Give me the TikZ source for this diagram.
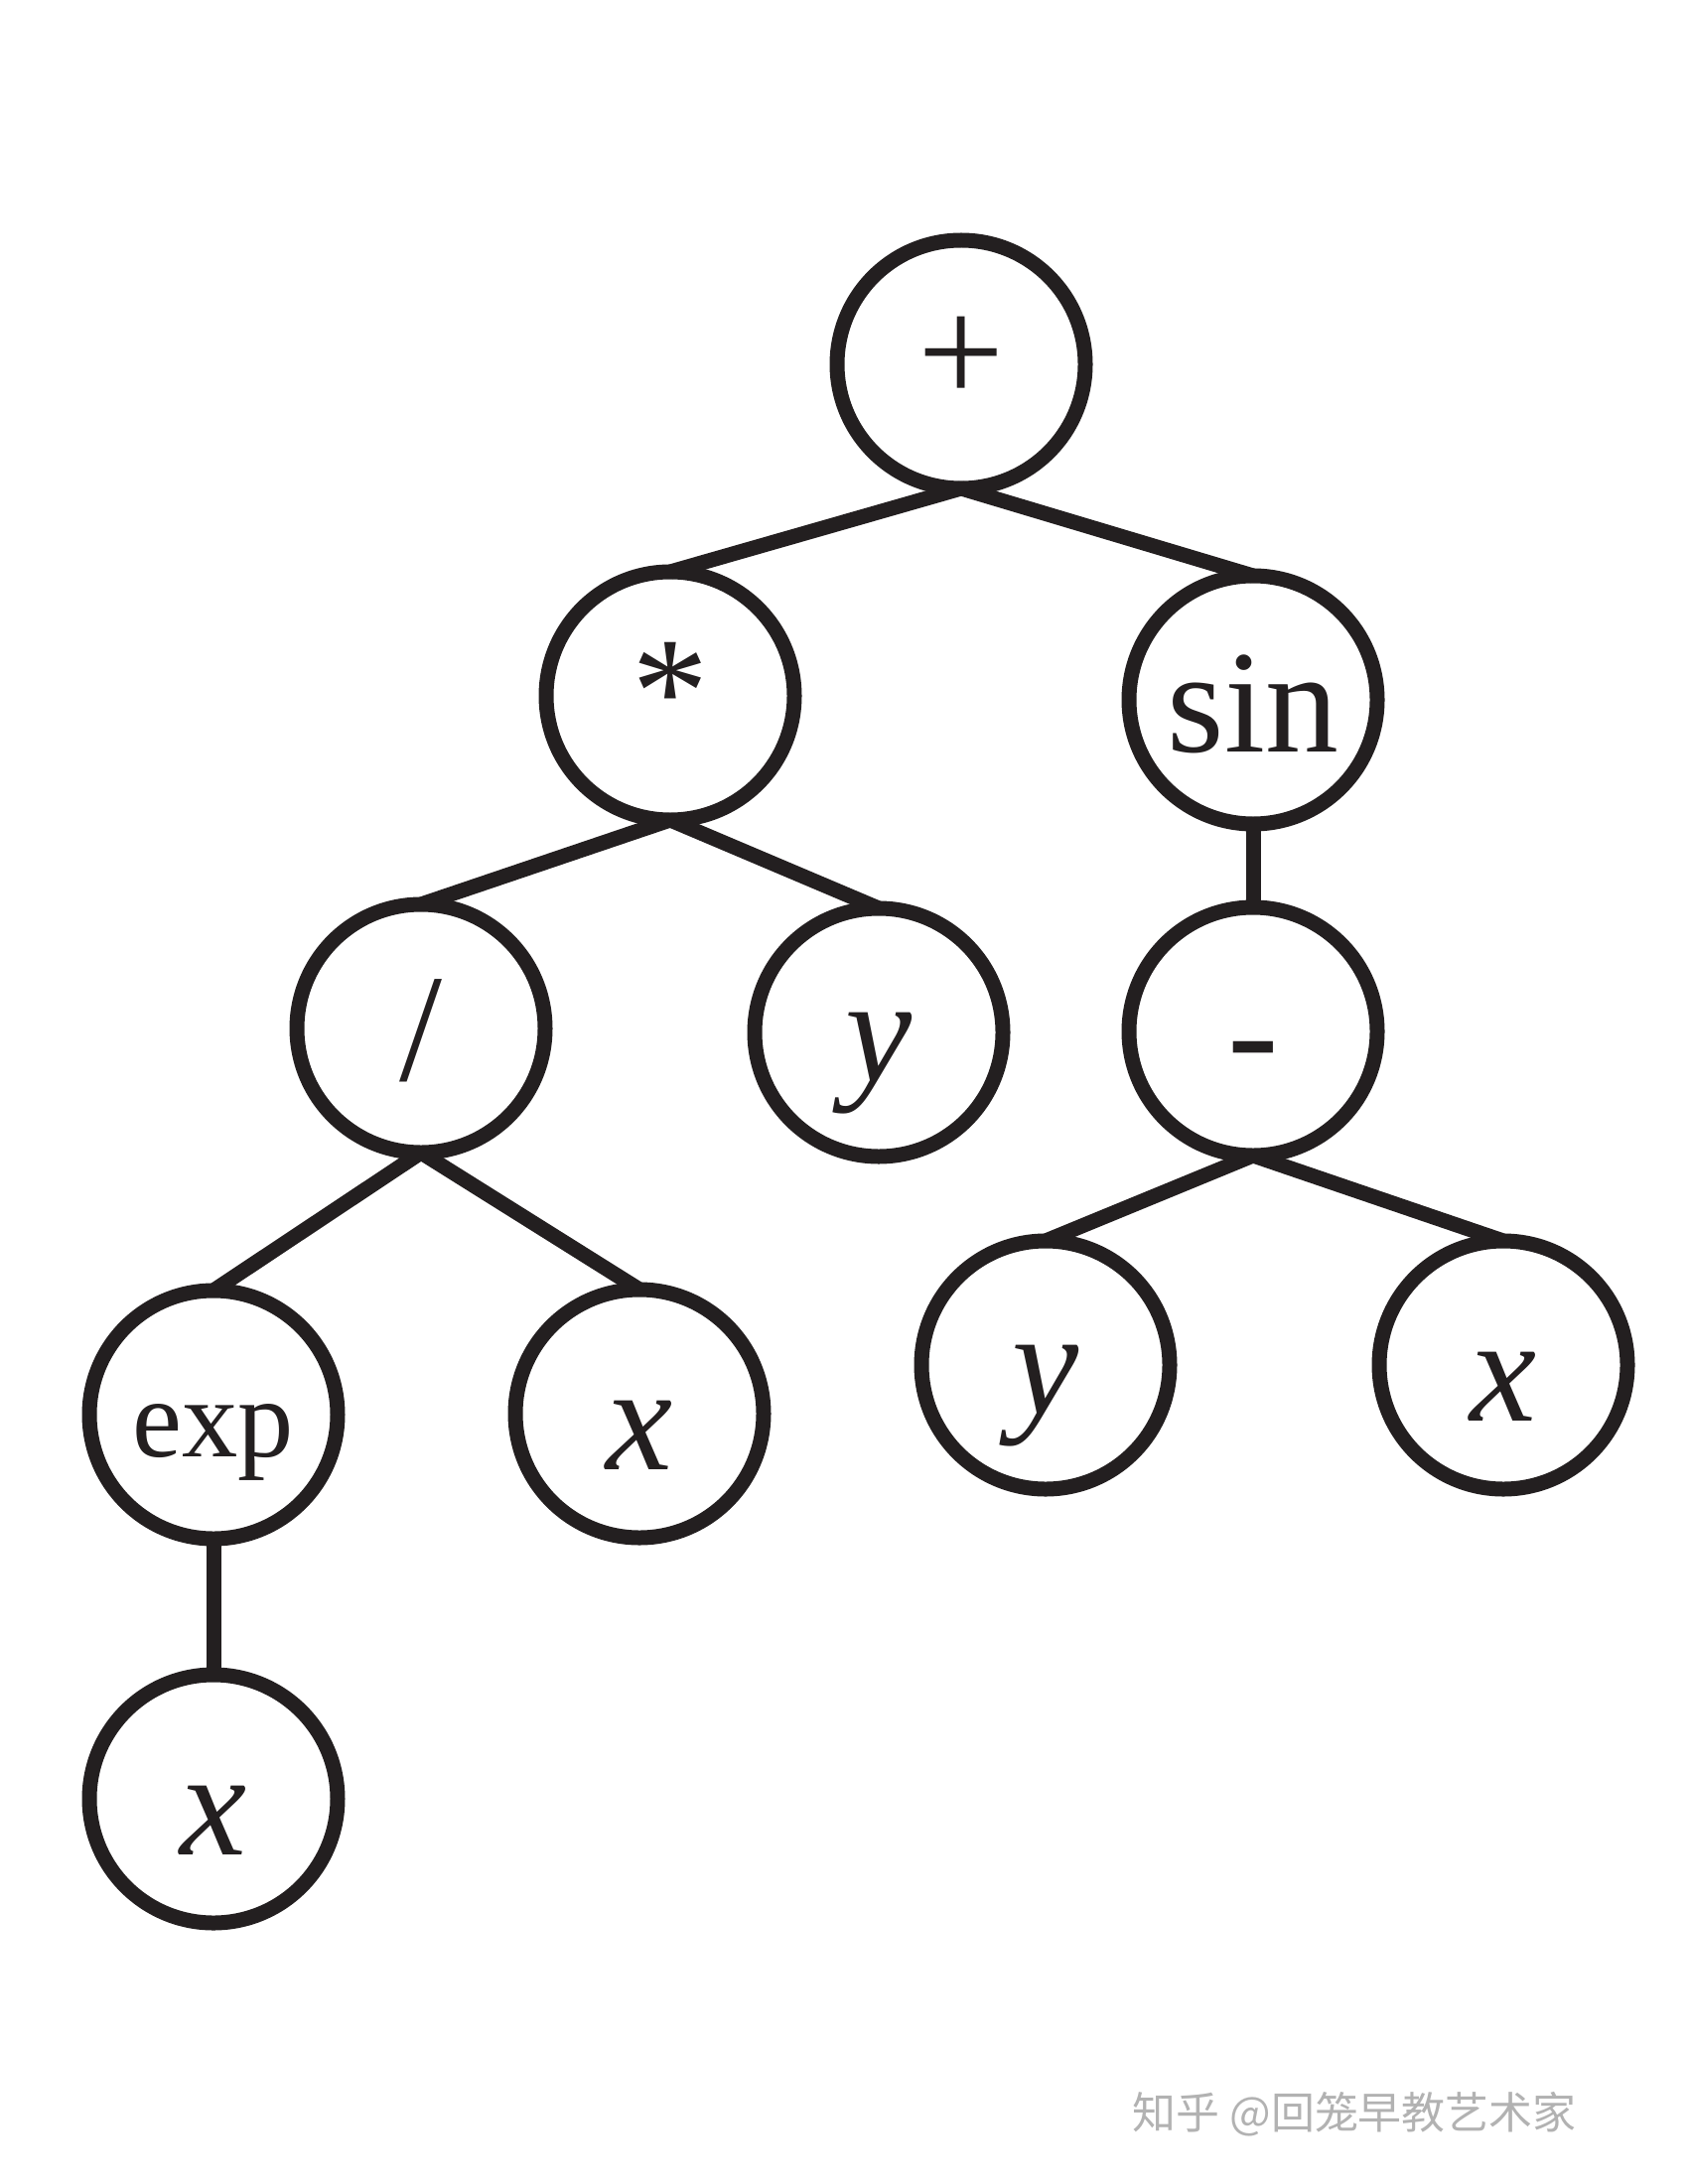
\documentclass[tikz,border=0pt]{standalone}
\usepackage{fontspec}
\setmainfont{Liberation Serif}
\newfontfamily\cjkfont{Noto Sans CJK SC}
\usepackage{xcolor}
\usepackage{tikz}
\usetikzlibrary{positioning}

\definecolor{ink}{HTML}{231F20}

\begin{document}
\begin{tikzpicture}[
  opnode/.style={circle, draw=ink, line width=0.15cm, fill=white, inner sep=0pt,
    outer sep=0pt, minimum size=2.5cm, text=ink, text height=1.04cm, text depth=0cm,
    font=\fontsize{44pt}{50pt}\selectfont},
  varnode/.style={opnode, font=\fontsize{43pt}{50pt}\selectfont\itshape},
  edge/.style={draw=ink, line width=0.15cm},
  creditlabel/.style={font=\cjkfont\fontsize{12.5pt}{14pt}\selectfont, text=black!30}
]
  \useasboundingbox (0,0) rectangle (17,-22);

  \node[opnode, text height=0.8cm]  (plus)  at (9.68, -3.67)  {+};
  \node[opnode, text height=0.94cm] (times) at (6.75, -7.01)  {*};
  \node[opnode, font=\fontsize{42pt}{50pt}\selectfont] (sin) at (12.62, -7.05) {sin};
  \node[opnode]  (div)   at (4.24, -10.36) {/};
  \node[varnode, text height=0.98cm] (yA) at (8.85, -10.40) {y};
  \node[opnode]  (minus) at (12.62, -10.39) {-};
  \node[opnode, text height=0.84cm, font=\fontsize{32pt}{36pt}\selectfont] (exp) at (2.15, -14.25) {exp};
  \node[varnode, text height=1.12cm] (xA) at (6.44, -14.24) {x};
  \node[varnode, text height=0.98cm] (yB) at (10.53, -13.75) {y};
  \node[varnode, text height=1.12cm] (xB) at (15.14, -13.75) {x};
  \node[varnode, text height=1.12cm] (xC) at (2.15, -18.12) {x};

  \draw[edge] (plus.south)  -- (times.north);
  \draw[edge] (plus.south)  -- (sin.north);
  \draw[edge] (times.south) -- (div.north);
  \draw[edge] (times.south) -- (yA.north);
  \draw[edge] (sin.south)   -- (minus.north);
  \draw[edge] (div.south)   -- (exp.north);
  \draw[edge] (div.south)   -- (xA.north);
  \draw[edge] (minus.south) -- (yB.north);
  \draw[edge] (minus.south) -- (xB.north);
  \draw[edge] (exp.south)   -- (xC.north);

  \node[creditlabel, anchor=east] (credit) at (16.0, -21.30) {知乎 @回笼早教艺术家};
\end{tikzpicture}
\end{document}
